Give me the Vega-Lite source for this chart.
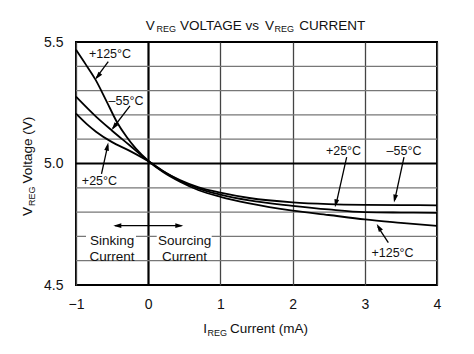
{
  "$schema": "https://vega.github.io/schema/vega-lite/v6.json",
  "width": 361,
  "height": 243,
  "autosize": "none",
  "padding": {"left": 76, "top": 42, "right": 37, "bottom": 69},
  "background": "white",
  "config": {
    "view": {"stroke": "#000", "strokeWidth": 2},
    "font": "Liberation Sans"
  },
  "layer": [
    {
      "data": {"values": [
        {"v": 4.6}, {"v": 4.7}, {"v": 4.8}, {"v": 4.9}, {"v": 5.1}, {"v": 5.2}, {"v": 5.3}, {"v": 5.4}
      ]},
      "mark": {"type": "rule", "color": "#777", "strokeWidth": 1.3},
      "encoding": {
        "y": {"field": "v", "type": "quantitative", "title": null}
      }
    },
    {
      "data": {"values": [{"v": 5.0}]},
      "mark": {"type": "rule", "color": "#000", "strokeWidth": 2.2},
      "encoding": {
        "y": {"field": "v", "type": "quantitative", "title": null}
      }
    },
    {
      "data": {"values": [
        {"t": "+125°C", "i": -1, "v": 5.468}, {"t": "+125°C", "i": -0.87, "v": 5.41}, {"t": "+125°C", "i": -0.73, "v": 5.345},
        {"t": "+125°C", "i": -0.58, "v": 5.258}, {"t": "+125°C", "i": -0.432, "v": 5.17}, {"t": "+125°C", "i": -0.3, "v": 5.11},
        {"t": "+125°C", "i": -0.17, "v": 5.061}, {"t": "+125°C", "i": 0.015, "v": 5.007}, {"t": "+125°C", "i": 0.2, "v": 4.966},
        {"t": "+125°C", "i": 0.44, "v": 4.925}, {"t": "+125°C", "i": 0.7, "v": 4.89}, {"t": "+125°C", "i": 1.0, "v": 4.863},
        {"t": "+125°C", "i": 1.4, "v": 4.836}, {"t": "+125°C", "i": 2.0, "v": 4.806}, {"t": "+125°C", "i": 2.5, "v": 4.788},
        {"t": "+125°C", "i": 3.0, "v": 4.77}, {"t": "+125°C", "i": 3.5, "v": 4.756}, {"t": "+125°C", "i": 4.0, "v": 4.743},
        {"t": "-55°C", "i": -1, "v": 5.275}, {"t": "-55°C", "i": -0.723, "v": 5.193}, {"t": "-55°C", "i": -0.5, "v": 5.135},
        {"t": "-55°C", "i": -0.262, "v": 5.076}, {"t": "-55°C", "i": 0.015, "v": 5.007}, {"t": "-55°C", "i": 0.2, "v": 4.969},
        {"t": "-55°C", "i": 0.44, "v": 4.932}, {"t": "-55°C", "i": 0.7, "v": 4.902}, {"t": "-55°C", "i": 1.0, "v": 4.88},
        {"t": "-55°C", "i": 1.4, "v": 4.858}, {"t": "-55°C", "i": 2.0, "v": 4.84}, {"t": "-55°C", "i": 2.5, "v": 4.833},
        {"t": "-55°C", "i": 3.0, "v": 4.83}, {"t": "-55°C", "i": 3.5, "v": 4.829}, {"t": "-55°C", "i": 4.0, "v": 4.828},
        {"t": "+25°C", "i": -1, "v": 5.205}, {"t": "+25°C", "i": -0.85, "v": 5.162}, {"t": "+25°C", "i": -0.723, "v": 5.131},
        {"t": "+25°C", "i": -0.5, "v": 5.088}, {"t": "+25°C", "i": -0.262, "v": 5.053}, {"t": "+25°C", "i": 0.015, "v": 5.007},
        {"t": "+25°C", "i": 0.2, "v": 4.97}, {"t": "+25°C", "i": 0.44, "v": 4.929}, {"t": "+25°C", "i": 0.7, "v": 4.897},
        {"t": "+25°C", "i": 1.0, "v": 4.872}, {"t": "+25°C", "i": 1.4, "v": 4.848}, {"t": "+25°C", "i": 2.0, "v": 4.826},
        {"t": "+25°C", "i": 2.5, "v": 4.811}, {"t": "+25°C", "i": 3.0, "v": 4.8}, {"t": "+25°C", "i": 3.5, "v": 4.798},
        {"t": "+25°C", "i": 4.0, "v": 4.797}
      ]},
      "mark": {"type": "line", "interpolate": "monotone", "color": "#000", "strokeWidth": 1.8},
      "encoding": {
        "x": {
          "field": "i", "type": "quantitative", "title": null,
          "scale": {"domain": [-1, 4], "nice": false, "zero": false},
          "axis": {
            "values": [-1, 0, 1, 2, 3, 4], "format": "d", "title": null,
            "domain": false, "ticks": false, "tickSize": 0, "labelPadding": 12,
            "labelFontSize": 14, "labelFont": "Liberation Sans", "labelColor": "#111",
            "labelFlush": false, "labelOverlap": false,
            "grid": true,
            "gridColor": {"condition": {"test": "datum.value === 0", "value": "#000"}, "value": "#444"},
            "gridWidth": {"condition": {"test": "datum.value === 0", "value": 2.2}, "value": 1.3}
          }
        },
        "y": {
          "field": "v", "type": "quantitative", "title": null,
          "scale": {"domain": [4.5, 5.5], "nice": false, "zero": false},
          "axis": {
            "values": [4.5, 5, 5.5], "format": ".1f",
            "title": null, "domain": false, "ticks": false, "tickSize": 0, "labelPadding": 13,
            "labelFontSize": 14, "labelFont": "Liberation Sans", "labelColor": "#111",
            "labelFlush": false, "labelOverlap": false, "grid": false
          }
        },
        "detail": {"field": "t"}
      }
    },
    {
      "data": {"values": [
        {"x": -0.8615, "x2": -0.169, "y": 4.692, "y2": 4.708},
        {"x": 0.1177, "x2": 0.8795, "y": 4.692, "y2": 4.708}
      ]},
      "mark": {"type": "rect", "color": "white"},
      "encoding": {
        "x": {"field": "x", "type": "quantitative", "title": null},
        "x2": {"field": "x2"},
        "y": {"field": "y", "type": "quantitative", "title": null},
        "y2": {"field": "y2"}
      }
    },
    {
      "data": {"values": [
        {"x": -0.553, "y": 5.419, "x2": -0.72, "y2": 5.352},
        {"x": -0.252, "y": 5.237, "x2": -0.49, "y2": 5.145},
        {"x": -0.647, "y": 4.957, "x2": -0.56, "y2": 5.075},
        {"x": 2.749, "y": 5.026, "x2": 2.6, "y2": 4.83},
        {"x": 3.543, "y": 5.026, "x2": 3.415, "y2": 4.85},
        {"x": 3.326, "y": 4.674, "x2": 3.18, "y2": 4.74},
        {"x": -0.46, "y": 4.744, "x2": 0.46, "y2": 4.744}
      ]},
      "mark": {"type": "rule", "color": "#000", "strokeWidth": 1.3},
      "encoding": {
        "x": {"field": "x", "type": "quantitative", "title": null},
        "y": {"field": "y", "type": "quantitative", "title": null},
        "x2": {"field": "x2"},
        "y2": {"field": "y2"}
      }
    },
    {
      "data": {"values": [
        {"x": -0.733, "y": 5.346, "dir": 219.4},
        {"x": -0.506, "y": 5.138, "dir": 217.3},
        {"x": -0.553, "y": 5.086, "dir": 12.3},
        {"x": 2.587, "y": 4.82, "dir": 193.2},
        {"x": 3.404, "y": 4.839, "dir": 192.4},
        {"x": 3.165, "y": 4.751, "dir": 328.2},
        {"x": -0.483, "y": 4.744, "dir": 270},
        {"x": 0.486, "y": 4.744, "dir": 90}
      ]},
      "mark": {"type": "point", "shape": "M0,0L-0.6,2L0.6,2Z", "filled": true, "color": "#000", "opacity": 1, "size": 64, "strokeWidth": 0},
      "encoding": {
        "x": {"field": "x", "type": "quantitative", "title": null},
        "y": {"field": "y", "type": "quantitative", "title": null},
        "angle": {"field": "dir", "type": "quantitative", "scale": null}
      }
    },
    {
      "data": {"values": [
        {"x": -0.529, "y": 5.434, "label": "+125°C"},
        {"x": -0.307, "y": 5.241, "label": "–55°C"},
        {"x": -0.675, "y": 4.912, "label": "+25°C"},
        {"x": 2.705, "y": 5.035, "label": "+25°C"},
        {"x": 3.543, "y": 5.035, "label": "–55°C"},
        {"x": 3.384, "y": 4.616, "label": "+125°C"}
      ]},
      "mark": {"type": "text", "font": "Liberation Sans", "fontSize": 12.5, "color": "#111", "align": "center", "baseline": "alphabetic"},
      "encoding": {
        "x": {"field": "x", "type": "quantitative", "title": null},
        "y": {"field": "y", "type": "quantitative", "title": null},
        "text": {"field": "label"}
      }
    },
    {
      "data": {"values": [
        {"x": -0.501, "y": 4.665, "label": "Sinking"},
        {"x": -0.501, "y": 4.6, "label": "Current"},
        {"x": 0.503, "y": 4.665, "label": "Sourcing"},
        {"x": 0.503, "y": 4.6, "label": "Current"}
      ]},
      "mark": {"type": "text", "font": "Liberation Sans", "fontSize": 13.5, "color": "#111", "align": "center", "baseline": "alphabetic"},
      "encoding": {
        "x": {"field": "x", "type": "quantitative", "title": null},
        "y": {"field": "y", "type": "quantitative", "title": null},
        "text": {"field": "label"}
      }
    },
    {
      "data": {"values": [
        {"x": -0.0346, "y": 5.5494, "label": "V"},
        {"x": 0.4404, "y": 5.5494, "label": "VOLTAGE vs"},
        {"x": 1.6177, "y": 5.5494, "label": "V"},
        {"x": 2.0928, "y": 5.5494, "label": "CURRENT"},
        {"x": 0.7632, "y": 4.3012, "label": "I"},
        {"x": 1.133, "y": 4.3012, "label": "Current (mA)"}
      ]},
      "mark": {"type": "text", "font": "Liberation Sans", "fontSize": 13.5, "color": "#111", "align": "left", "baseline": "alphabetic"},
      "encoding": {
        "x": {"field": "x", "type": "quantitative", "title": null},
        "y": {"field": "y", "type": "quantitative", "title": null},
        "text": {"field": "label"}
      }
    },
    {
      "data": {"values": [
        {"x": 0.115, "y": 5.5399, "label": "REG"},
        {"x": 1.7493, "y": 5.5399, "label": "REG"},
        {"x": 0.8213, "y": 4.2901, "label": "REG"}
      ]},
      "mark": {"type": "text", "font": "Liberation Sans", "fontSize": 9, "color": "#111", "align": "left", "baseline": "alphabetic"},
      "encoding": {
        "x": {"field": "x", "type": "quantitative", "title": null},
        "y": {"field": "y", "type": "quantitative", "title": null},
        "text": {"field": "label"}
      }
    },
    {
      "data": {"values": [
        {"x": -1.6094, "y": 4.784, "label": "V"},
        {"x": -1.6094, "y": 4.918, "label": "Voltage (V)"}
      ]},
      "mark": {"type": "text", "font": "Liberation Sans", "fontSize": 13.5, "color": "#111", "align": "left", "baseline": "alphabetic", "angle": 270},
      "encoding": {
        "x": {"field": "x", "type": "quantitative", "title": null},
        "y": {"field": "y", "type": "quantitative", "title": null},
        "text": {"field": "label"}
      }
    },
    {
      "data": {"values": [
        {"x": -1.5679, "y": 4.8251, "label": "REG"}
      ]},
      "mark": {"type": "text", "font": "Liberation Sans", "fontSize": 9, "color": "#111", "align": "left", "baseline": "alphabetic", "angle": 270},
      "encoding": {
        "x": {"field": "x", "type": "quantitative", "title": null},
        "y": {"field": "y", "type": "quantitative", "title": null},
        "text": {"field": "label"}
      }
    }
  ]
}
